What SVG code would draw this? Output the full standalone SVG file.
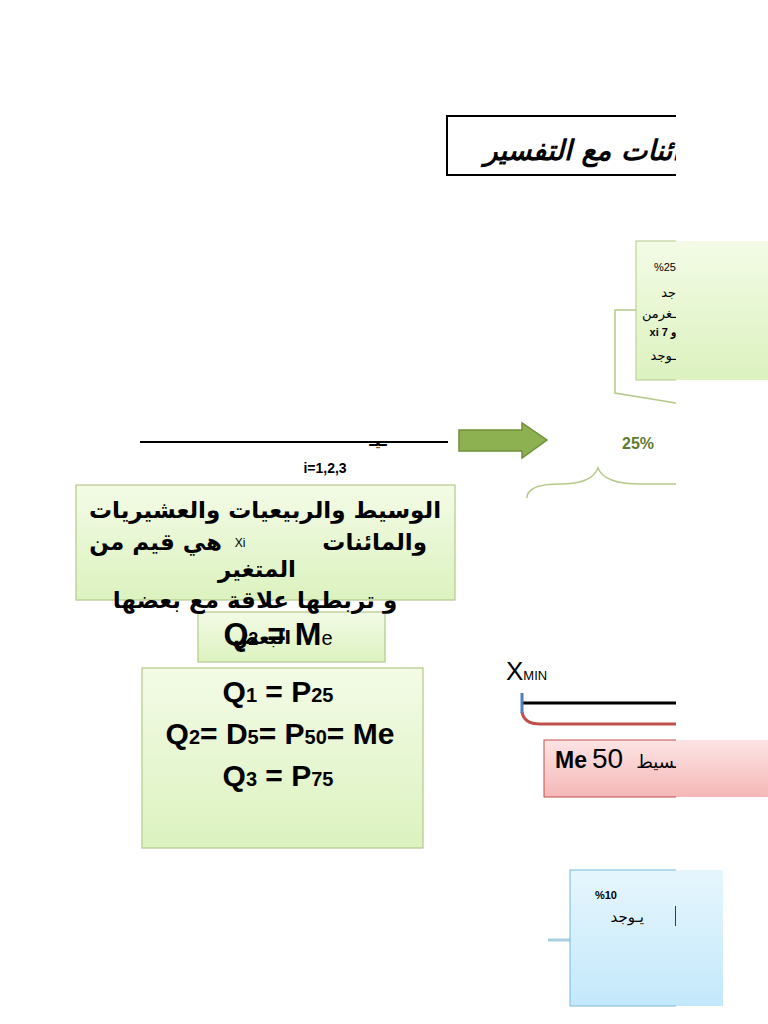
<svg xmlns="http://www.w3.org/2000/svg" width="768" height="1024" viewBox="0 0 768 1024">
<style>
.ar{font-family:"DejaVu Sans","Noto Sans",sans-serif}
.lb{font-family:"Liberation Sans",sans-serif}
.gbox{fill:url(#gg);stroke:#b5c98a;stroke-width:1.2}
</style>
<defs>
<linearGradient id="gg" x1="0" y1="0" x2="0" y2="1"><stop offset="0" stop-color="#f3fbe6"/><stop offset="1" stop-color="#dcf2bf"/></linearGradient>
<linearGradient id="pg" x1="0" y1="0" x2="0" y2="1"><stop offset="0" stop-color="#fde4e4"/><stop offset="1" stop-color="#f5b7b7"/></linearGradient>
<linearGradient id="bg" x1="0" y1="0" x2="0" y2="1"><stop offset="0" stop-color="#e6f6fd"/><stop offset="1" stop-color="#c3e8fb"/></linearGradient>
<clipPath id="c"><rect x="0" y="0" width="676" height="1024"/></clipPath>
</defs>
<rect width="768" height="1024" fill="#fff"/>
<g id="title" clip-path="url(#c)">
<rect x="447" y="116" width="260" height="59" fill="#fff" stroke="#000" stroke-width="2"/>
<text x="680" y="160" text-anchor="end" class="ar" font-size="28" font-weight="bold" font-style="italic">ائنات مع التفسير</text>
</g>
<g id="callout25">
<rect x="636" y="241" width="132" height="139" fill="url(#gg)"/>
<g clip-path="url(#c)">
<rect x="636" y="241" width="60" height="139" fill="none" stroke="#b5c98a"/>
<polyline points="636,310 615,310 615,393 676,403" fill="none" stroke="#b5c98a" stroke-width="1.5"/>
<text x="676" y="271" text-anchor="end" class="lb" font-size="11">%25</text>
<text x="676" y="297" text-anchor="end" class="ar" font-size="13">جد</text>
<text x="676" y="318" text-anchor="end" class="ar" font-size="13">ـغرمن</text>
<text x="676" y="336" text-anchor="end" class="lb" font-size="11" font-weight="bold">xi و 7</text>
<text x="676" y="360" text-anchor="end" class="ar" font-size="13">ـوجد</text>
</g>
</g>
<g id="connectors">
<line x1="140" y1="442" x2="448" y2="442" stroke="#000" stroke-width="2"/>
<path d="M459,430 H522 V423 L547,440 L522,458 V451 H459 Z" fill="#8db050" stroke="#6f8f3a" stroke-width="1.5"/>
<path d="M527,498 Q527,484 560,484 Q592,484 598,468 Q604,484 640,484 H676" fill="none" stroke="#b5c98a" stroke-width="1.5"/>
<line x1="522" y1="703" x2="676" y2="703" stroke="#000" stroke-width="3"/>
<path d="M522,712 Q524,724 540,724 H676" fill="none" stroke="#c0504d" stroke-width="3"/>
<line x1="522" y1="693" x2="522" y2="713" stroke="#4f81bd" stroke-width="3"/>
<line x1="548" y1="940" x2="572" y2="940" stroke="#a9cfe0" stroke-width="3"/>
</g>
<text x="378" y="446" text-anchor="middle" class="ar" font-size="16" font-weight="bold">ـيـ</text>
<text x="325" y="473" text-anchor="middle" class="lb" font-size="14" font-weight="bold">i=1,2,3</text>
<text x="638" y="449" text-anchor="middle" class="lb" font-size="16" font-weight="bold" fill="#5f7a30">25%</text>
<g id="defbox">
<rect x="76" y="485" width="379" height="115" class="gbox"/>
<text x="265" y="518" text-anchor="middle" class="ar" font-size="23" font-weight="bold">الوسيط والربيعيات والعشيريات</text>
<text x="427" y="550" text-anchor="end" class="ar" font-size="23" font-weight="bold">والمائنات</text>
<text x="240" y="547" text-anchor="middle" class="lb" font-size="12">Xi</text>
<text x="222" y="550" text-anchor="end" class="ar" font-size="23" font-weight="bold">هي قيم من</text>
<text x="257" y="577" text-anchor="middle" class="ar" font-size="23" font-weight="bold">المتغير</text>
</g>
<g id="q2box">
<rect x="198" y="612" width="187" height="50" class="gbox"/>
<text x="262" y="644" text-anchor="middle" class="ar" font-size="19" font-weight="bold">البعض</text>
<text x="278" y="645" text-anchor="middle" class="lb" font-size="32" font-weight="bold">Q<tspan font-size="18">2</tspan> = M<tspan font-size="20" font-weight="normal">e</tspan></text>
</g>
<text x="255" y="608" text-anchor="middle" class="ar" font-size="23" font-weight="bold">و تربطها علاقة مع بعضها</text>
<g id="relbox">
<rect x="142" y="668" width="281" height="180" class="gbox"/>
<text x="278" y="702" text-anchor="middle" class="lb" font-size="30" font-weight="bold">Q<tspan font-size="20">1</tspan>  = P<tspan font-size="20">25</tspan></text>
<text x="280" y="744" text-anchor="middle" class="lb" font-size="30" font-weight="bold">Q<tspan font-size="20">2</tspan>= D<tspan font-size="20">5</tspan>= P<tspan font-size="20">50</tspan>= Me</text>
<text x="278" y="786" text-anchor="middle" class="lb" font-size="30" font-weight="bold">Q<tspan font-size="20">3</tspan>  = P<tspan font-size="20">75</tspan></text>
</g>
<text x="506" y="680" class="lb" font-size="26">X<tspan font-size="13">MIN</tspan></text>
<g id="mebox">
<rect x="544" y="740" width="224" height="57" fill="url(#pg)"/>
<g clip-path="url(#c)">
<rect x="544" y="740" width="150" height="57" fill="none" stroke="#c0504d"/>
<text x="555" y="768" class="lb" font-size="23" font-weight="bold">Me</text>
<text x="592" y="768" class="lb" font-size="28">50</text>
<text x="680" y="768" text-anchor="end" class="ar" font-size="18">ـسيط</text>
</g>
</g>
<g id="box10">
<rect x="570" y="870" width="153" height="136" fill="url(#bg)"/>
<g clip-path="url(#c)">
<rect x="570" y="870" width="130" height="136" fill="none" stroke="#7ab8d8"/>
<text x="680" y="900" text-anchor="end" direction="rtl" class="ar" font-size="16" font-weight="bold" fill="#5f7a30">فسير:</text>
<text x="617" y="899" text-anchor="end" class="lb" font-size="11" font-weight="bold">%10</text>
<line x1="676" y1="906" x2="676" y2="926" stroke="#000" stroke-width="1.5"/>
<text x="644" y="922" text-anchor="end" class="ar" font-size="15">يـوجد</text>
</g>
</g>
</svg>
